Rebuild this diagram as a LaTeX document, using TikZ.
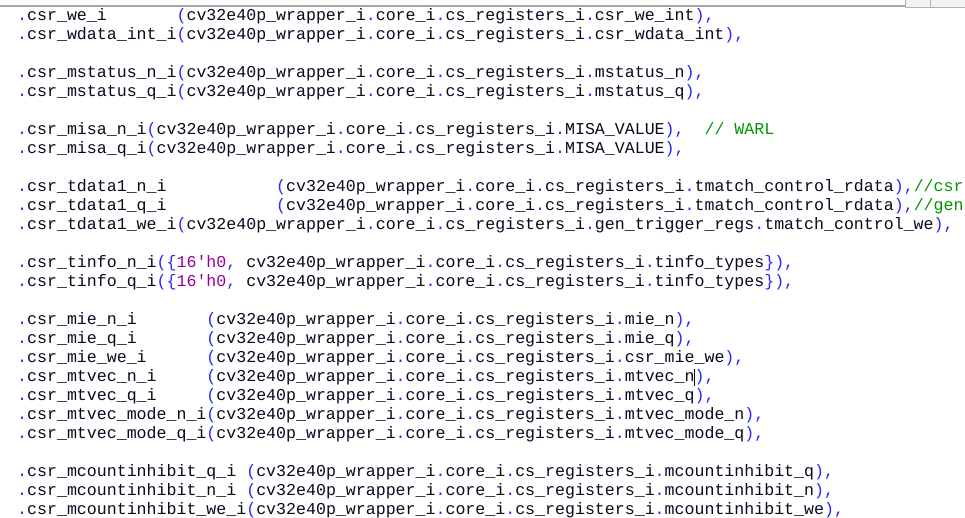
\documentclass[tikz,border=0pt]{standalone}
\usepackage{fontspec}
\setmonofont{Liberation Mono}
\definecolor{pb}{RGB}{40,40,255}
\definecolor{cg}{RGB}{0,150,0}
\definecolor{pp}{RGB}{150,0,150}
\definecolor{tx}{RGB}{10,10,30}
\newcommand\pc[1]{\textcolor{pb}{#1}}
\newcommand\W{cv32e40p\_wrapper\_i\pc{.}core\_i\pc{.}cs\_registers\_i\pc{.}}
\newcommand\crs{\makebox[0pt]{\rule[-4pt]{1.2pt}{17pt}}}
\tikzset{codeline/.style={anchor=base west,inner sep=0pt,text=tx,font=\ttfamily\fontsize{16.6}{19}\selectfont}}
\begin{document}
\begin{tikzpicture}[x=1pt,y=1pt]
\clip (0,0) rectangle (965,518);
\fill[white] (0,0) rectangle (965,518);
\draw[gray!70,line width=1.5pt] (0,512) -- (965,512);
\draw[gray!60,fill=gray!10] (905,511) rectangle (930,520);
\draw[gray!60,fill=gray!10] (930,511) rectangle (966,520);
\def\L#1#2{\node[codeline] (l#1) at (17,{518-21-19*#1}) {#2};}
\L{0}{\pc{.}csr\_we\_i~~~~~~~\pc{(}\W csr\_we\_int\pc{),}}
\L{1}{\pc{.}csr\_wdata\_int\_i\pc{(}\W csr\_wdata\_int\pc{),}}
\L{3}{\pc{.}csr\_mstatus\_n\_i\pc{(}\W mstatus\_n\pc{),}}
\L{4}{\pc{.}csr\_mstatus\_q\_i\pc{(}\W mstatus\_q\pc{),}}
\L{6}{\pc{.}csr\_misa\_n\_i\pc{(}\W MISA\_VALUE\pc{),}~~\textcolor{cg}{//~WARL}}
\L{7}{\pc{.}csr\_misa\_q\_i\pc{(}\W MISA\_VALUE\pc{),}}
\L{9}{\pc{.}csr\_tdata1\_n\_i~~~~~~~~~~~\pc{(}\W tmatch\_control\_rdata\pc{),}\textcolor{cg}{//csr}}
\L{10}{\pc{.}csr\_tdata1\_q\_i~~~~~~~~~~~\pc{(}\W tmatch\_control\_rdata\pc{),}\textcolor{cg}{//gen}}
\L{11}{\pc{.}csr\_tdata1\_we\_i\pc{(}\W gen\_trigger\_regs\pc{.}tmatch\_control\_we\pc{),}}
\L{13}{\pc{.}csr\_tinfo\_n\_i\pc{(\{}\textcolor{pp}{16'h0}\pc{,}~\W tinfo\_types\pc{\}),}}
\L{14}{\pc{.}csr\_tinfo\_q\_i\pc{(\{}\textcolor{pp}{16'h0}\pc{,}~\W tinfo\_types\pc{\}),}}
\L{16}{\pc{.}csr\_mie\_n\_i~~~~~~~\pc{(}\W mie\_n\pc{),}}
\L{17}{\pc{.}csr\_mie\_q\_i~~~~~~~\pc{(}\W mie\_q\pc{),}}
\L{18}{\pc{.}csr\_mie\_we\_i~~~~~~\pc{(}\W csr\_mie\_we\pc{),}}
\L{19}{\pc{.}csr\_mtvec\_n\_i~~~~~\pc{(}\W mtvec\_n\crs\pc{),}}
\L{20}{\pc{.}csr\_mtvec\_q\_i~~~~~\pc{(}\W mtvec\_q\pc{),}}
\L{21}{\pc{.}csr\_mtvec\_mode\_n\_i\pc{(}\W mtvec\_mode\_n\pc{),}}
\L{22}{\pc{.}csr\_mtvec\_mode\_q\_i\pc{(}\W mtvec\_mode\_q\pc{),}}
\L{24}{\pc{.}csr\_mcountinhibit\_q\_i~\pc{(}\W mcountinhibit\_q\pc{),}}
\L{25}{\pc{.}csr\_mcountinhibit\_n\_i~\pc{(}\W mcountinhibit\_n\pc{),}}
\L{26}{\pc{.}csr\_mcountinhibit\_we\_i\pc{(}\W mcountinhibit\_we\pc{),}}
\end{tikzpicture}
\end{document}
